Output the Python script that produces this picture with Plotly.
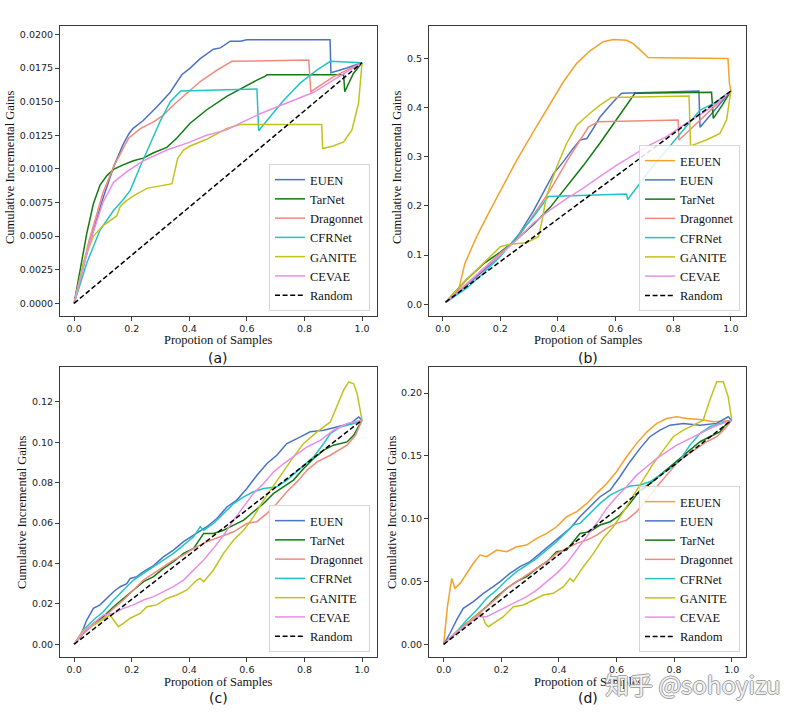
import plotly.graph_objects as go

# ---------------- Panel (a) ----------------
A_EUEN_X = [0, 0.05, 0.1, 0.14, 0.17, 0.19, 0.204, 0.24, 0.287, 0.334, 0.374, 0.403, 0.438, 0.484, 0.508, 0.542, 0.577, 0.6, 0.889, 0.892, 0.947, 1.0]
A_EUEN_Y = [0, 0.0042, 0.0078, 0.0103, 0.0118, 0.0126, 0.0130, 0.0136, 0.0146, 0.0157, 0.0170, 0.0175, 0.0182, 0.0189, 0.0190, 0.0195, 0.0195, 0.0196, 0.0196, 0.01715, 0.0175, 0.0179]
A_TARNET_X = [0, 0.044, 0.067, 0.09, 0.114, 0.137, 0.17, 0.206, 0.24, 0.276, 0.322, 0.357, 0.403, 0.461, 0.53, 0.589, 0.635, 0.664, 0.67, 0.936, 0.94, 0.97, 1.0]
A_TARNET_Y = [0, 0.0052, 0.0074, 0.0088, 0.0095, 0.00996, 0.0103, 0.0106, 0.0108, 0.0112, 0.0116, 0.0123, 0.0134, 0.0144, 0.0154, 0.0161, 0.0166, 0.0169, 0.0170, 0.0170, 0.01574, 0.0171, 0.0179]
A_DRAGON_X = [0, 0.05, 0.1, 0.14, 0.19, 0.23, 0.276, 0.31, 0.345, 0.39, 0.438, 0.496, 0.548, 0.815, 0.822, 0.9, 1.0]
A_DRAGON_Y = [0, 0.0045, 0.0082, 0.0103, 0.0123, 0.0130, 0.0135, 0.0140, 0.01475, 0.0156, 0.0165, 0.01735, 0.0180, 0.0181, 0.01574, 0.01685, 0.0179]
A_CFR_X = [0, 0.044, 0.09, 0.137, 0.17, 0.195, 0.23, 0.264, 0.3, 0.334, 0.37, 0.635, 0.641, 0.67, 0.728, 0.786, 0.843, 0.89, 1.0]
A_CFR_Y = [0, 0.0030, 0.00545, 0.0069, 0.0077, 0.0084, 0.0102, 0.0119, 0.0136, 0.0150, 0.0158, 0.01594, 0.01284, 0.0136, 0.0151, 0.0164, 0.01735, 0.0180, 0.0179]
A_GANITE_X = [0, 0.032, 0.067, 0.102, 0.148, 0.16, 0.18, 0.206, 0.253, 0.31, 0.34, 0.36, 0.38, 0.403, 0.46, 0.53, 0.577, 0.86, 0.863, 0.9, 0.936, 0.965, 0.988, 1.0]
A_GANITE_Y = [0, 0.0030, 0.0050, 0.0058, 0.0065, 0.0072, 0.0076, 0.0080, 0.00855, 0.0088, 0.0089, 0.0108, 0.0114, 0.0117, 0.0122, 0.0130, 0.0133, 0.0133, 0.01152, 0.0117, 0.0120, 0.0129, 0.0149, 0.0179]
A_CEVAE_X = [0, 0.05, 0.1, 0.137, 0.183, 0.24, 0.322, 0.39, 0.46, 0.53, 0.577, 0.646, 0.704, 0.762, 0.832, 0.9, 1.0]
A_CEVAE_Y = [0, 0.0042, 0.0075, 0.0090, 0.0098, 0.0106, 0.0114, 0.0119, 0.0125, 0.0129, 0.0134, 0.0141, 0.0146, 0.0151, 0.0157, 0.0166, 0.0179]
A_RANDOM_X = [0, 1.0]
A_RANDOM_Y = [0, 0.0179]

# ---------------- Panel (b) ----------------
B_EEUEN_X = [0.01, 0.054, 0.077, 0.118, 0.153, 0.2, 0.257, 0.315, 0.373, 0.419, 0.465, 0.51, 0.557, 0.592, 0.638, 0.661, 0.684, 0.713, 0.754, 0.99, 0.995, 1.0]
B_EEUEN_Y = [0.005, 0.026, 0.083, 0.1375, 0.178, 0.229, 0.293, 0.351, 0.4085, 0.4526, 0.49, 0.515, 0.534, 0.5386, 0.537, 0.53, 0.518, 0.502, 0.5014, 0.50, 0.45, 0.4336]
B_EUEN_X = [0.01, 0.083, 0.141, 0.2, 0.257, 0.315, 0.35, 0.384, 0.419, 0.45, 0.477, 0.5, 0.523, 0.546, 0.57, 0.592, 0.621, 0.889, 0.893, 1.0]
B_EUEN_Y = [0.004, 0.038, 0.068, 0.10, 0.135, 0.19, 0.228, 0.265, 0.29, 0.315, 0.334, 0.337, 0.358, 0.381, 0.397, 0.412, 0.429, 0.4336, 0.36, 0.4336]
B_TARNET_X = [0.01, 0.083, 0.141, 0.2, 0.257, 0.315, 0.373, 0.43, 0.488, 0.546, 0.604, 0.667, 0.933, 0.939, 0.97, 1.0]
B_TARNET_Y = [0.004, 0.05, 0.082, 0.106, 0.132, 0.162, 0.197, 0.238, 0.282, 0.328, 0.376, 0.429, 0.431, 0.378, 0.405, 0.4336]
B_DRAGON_X = [0.01, 0.083, 0.141, 0.2, 0.257, 0.315, 0.373, 0.43, 0.477, 0.506, 0.54, 0.817, 0.82, 1.0]
B_DRAGON_Y = [0.004, 0.04, 0.072, 0.104, 0.131, 0.182, 0.232, 0.29, 0.334, 0.361, 0.371, 0.3747, 0.334, 0.4336]
B_CFR_X = [0.01, 0.083, 0.141, 0.2, 0.257, 0.315, 0.366, 0.638, 0.642, 0.719, 0.777, 0.835, 0.893, 0.939, 1.0]
B_CFR_Y = [0.003, 0.0325, 0.063, 0.097, 0.1375, 0.178, 0.219, 0.2243, 0.213, 0.273, 0.3137, 0.354, 0.395, 0.408, 0.4336]
B_GANITE_X = [0.01, 0.083, 0.141, 0.2, 0.233, 0.291, 0.332, 0.343, 0.36, 0.396, 0.43, 0.465, 0.51, 0.546, 0.586, 0.855, 0.86, 0.915, 0.962, 0.985, 1.0]
B_GANITE_Y = [0.004, 0.05, 0.083, 0.117, 0.122, 0.125, 0.1375, 0.165, 0.219, 0.28, 0.327, 0.364, 0.388, 0.405, 0.4207, 0.4234, 0.3218, 0.334, 0.3476, 0.3747, 0.4336]
B_CEVAE_X = [0.01, 0.083, 0.141, 0.2, 0.257, 0.315, 0.373, 0.43, 0.488, 0.546, 0.604, 0.661, 0.719, 0.777, 0.835, 0.893, 0.95, 1.0]
B_CEVAE_Y = [0.004, 0.042, 0.072, 0.1, 0.131, 0.165, 0.192, 0.215, 0.236, 0.26, 0.283, 0.3035, 0.324, 0.341, 0.3645, 0.385, 0.4085, 0.4336]
B_RANDOM_X = [0.01, 1.0]
B_RANDOM_Y = [0.0043, 0.4336]

# ---------------- Panel (c) ----------------
C_EUEN_X = [0, 0.021, 0.044, 0.067, 0.09, 0.114, 0.137, 0.16, 0.183, 0.195, 0.218, 0.241, 0.276, 0.31, 0.345, 0.38, 0.415, 0.438, 0.461, 0.496, 0.531, 0.565, 0.6, 0.635, 0.67, 0.704, 0.739, 0.786, 0.82, 0.867, 0.913, 0.96, 0.988, 1.0]
C_EUEN_Y = [0, 0.0038, 0.012, 0.0178, 0.0195, 0.0227, 0.026, 0.0285, 0.030, 0.0326, 0.0335, 0.036, 0.039, 0.0433, 0.0466, 0.0508, 0.054, 0.0557, 0.0582, 0.0623, 0.068, 0.0714, 0.0771, 0.0837, 0.0895, 0.0936, 0.0994, 0.1027, 0.1052, 0.106, 0.1076, 0.1093, 0.1126, 0.111]
C_TARNET_X = [0, 0.032, 0.067, 0.102, 0.137, 0.171, 0.206, 0.241, 0.276, 0.31, 0.345, 0.38, 0.415, 0.45, 0.484, 0.519, 0.554, 0.589, 0.623, 0.658, 0.693, 0.728, 0.762, 0.797, 0.832, 0.867, 0.901, 0.948, 0.971, 1.0]
C_TARNET_Y = [0, 0.0054, 0.0104, 0.0137, 0.0186, 0.0227, 0.0269, 0.031, 0.0335, 0.0376, 0.0409, 0.045, 0.0475, 0.0549, 0.0549, 0.0565, 0.059, 0.0615, 0.0656, 0.0697, 0.0747, 0.078, 0.0813, 0.087, 0.092, 0.0961, 0.0986, 0.1002, 0.1035, 0.111]
C_DRAGON_X = [0, 0.032, 0.067, 0.102, 0.137, 0.171, 0.206, 0.241, 0.276, 0.31, 0.345, 0.38, 0.415, 0.461, 0.508, 0.554, 0.6, 0.635, 0.67, 0.704, 0.739, 0.774, 0.809, 0.844, 0.89, 0.948, 0.977, 1.0]
C_DRAGON_Y = [0, 0.0054, 0.0096, 0.0129, 0.0178, 0.0219, 0.0269, 0.0318, 0.0351, 0.0384, 0.0417, 0.0442, 0.0475, 0.0508, 0.0532, 0.0557, 0.0598, 0.0607, 0.0648, 0.0697, 0.0755, 0.0804, 0.0862, 0.0903, 0.0936, 0.0986, 0.1035, 0.111]
C_CFR_X = [0, 0.032, 0.067, 0.102, 0.137, 0.171, 0.206, 0.241, 0.276, 0.31, 0.345, 0.38, 0.415, 0.438, 0.45, 0.484, 0.519, 0.554, 0.589, 0.623, 0.658, 0.704, 0.739, 0.786, 0.832, 0.867, 0.89, 0.925, 0.971, 1.0]
C_CFR_Y = [0, 0.0071, 0.012, 0.0162, 0.0219, 0.0269, 0.0318, 0.0351, 0.0384, 0.0417, 0.045, 0.0491, 0.0532, 0.0582, 0.0565, 0.0598, 0.0648, 0.0697, 0.073, 0.0755, 0.0771, 0.078, 0.0813, 0.087, 0.0928, 0.0994, 0.1043, 0.1076, 0.1093, 0.111]
C_GANITE_X = [0, 0.032, 0.079, 0.125, 0.137, 0.154, 0.171, 0.195, 0.229, 0.253, 0.287, 0.322, 0.357, 0.392, 0.426, 0.438, 0.45, 0.484, 0.519, 0.554, 0.589, 0.623, 0.658, 0.693, 0.728, 0.762, 0.797, 0.844, 0.89, 0.913, 0.936, 0.954, 0.971, 0.983, 0.994, 1.0]
C_GANITE_Y = [0, 0.007, 0.0104, 0.0145, 0.012, 0.0087, 0.0104, 0.0129, 0.0153, 0.0186, 0.0195, 0.0227, 0.0244, 0.0269, 0.0318, 0.0326, 0.031, 0.0368, 0.045, 0.0516, 0.0565, 0.0631, 0.0714, 0.0788, 0.0862, 0.0928, 0.0994, 0.1052, 0.1101, 0.1175, 0.1258, 0.1299, 0.129, 0.1241, 0.1142, 0.111]
C_CEVAE_X = [0, 0.032, 0.067, 0.102, 0.137, 0.171, 0.206, 0.241, 0.276, 0.31, 0.345, 0.38, 0.415, 0.45, 0.484, 0.519, 0.554, 0.589, 0.623, 0.658, 0.693, 0.728, 0.762, 0.809, 0.855, 0.901, 0.948, 1.0]
C_CEVAE_Y = [0, 0.0063, 0.0104, 0.0145, 0.0153, 0.0178, 0.0195, 0.0219, 0.0236, 0.026, 0.0285, 0.0318, 0.0368, 0.0417, 0.0475, 0.054, 0.0615, 0.068, 0.0747, 0.0796, 0.0854, 0.0895, 0.0928, 0.0977, 0.101, 0.106, 0.1093, 0.111]
C_RANDOM_X = [0, 1.0]
C_RANDOM_Y = [0, 0.111]

# ---------------- Panel (d) ----------------
D_EEUEN_X = [0, 0.008, 0.013, 0.028, 0.039, 0.057, 0.08, 0.103, 0.126, 0.149, 0.184, 0.219, 0.253, 0.288, 0.323, 0.358, 0.392, 0.427, 0.462, 0.497, 0.531, 0.566, 0.6, 0.635, 0.67, 0.705, 0.74, 0.774, 0.809, 0.844, 0.89, 0.937, 0.983, 1.0]
D_EEUEN_Y = [0, 0.0194, 0.03, 0.0525, 0.0446, 0.0485, 0.0565, 0.0645, 0.071, 0.0698, 0.075, 0.0737, 0.0777, 0.079, 0.0843, 0.0883, 0.0936, 0.1016, 0.1056, 0.1122, 0.1202, 0.128, 0.1374, 0.1493, 0.16, 0.169, 0.1759, 0.1798, 0.1812, 0.1798, 0.179, 0.1772, 0.178, 0.1785]
D_EUEN_X = [0, 0.022, 0.045, 0.068, 0.103, 0.138, 0.172, 0.196, 0.23, 0.265, 0.3, 0.334, 0.369, 0.404, 0.439, 0.473, 0.508, 0.543, 0.578, 0.612, 0.647, 0.682, 0.716, 0.751, 0.786, 0.832, 0.89, 0.948, 0.988, 1.0]
D_EUEN_Y = [0, 0.0088, 0.0194, 0.0286, 0.034, 0.0406, 0.0459, 0.0499, 0.0565, 0.0618, 0.0658, 0.0724, 0.079, 0.0857, 0.0923, 0.1016, 0.1095, 0.1175, 0.1228, 0.1334, 0.1454, 0.156, 0.1653, 0.1706, 0.1745, 0.1759, 0.1745, 0.1759, 0.1812, 0.1785]
D_TARNET_X = [0, 0.045, 0.08, 0.115, 0.149, 0.184, 0.219, 0.253, 0.288, 0.323, 0.358, 0.392, 0.427, 0.45, 0.473, 0.508, 0.543, 0.578, 0.612, 0.647, 0.682, 0.716, 0.751, 0.786, 0.82, 0.855, 0.89, 0.924, 0.959, 0.988, 1.0]
D_TARNET_Y = [0, 0.01, 0.0167, 0.0233, 0.030, 0.0379, 0.0446, 0.0499, 0.0538, 0.0605, 0.0658, 0.0737, 0.075, 0.0817, 0.0883, 0.0897, 0.095, 0.0976, 0.1029, 0.1122, 0.1228, 0.128, 0.1347, 0.1414, 0.148, 0.1546, 0.1613, 0.1653, 0.1692, 0.1772, 0.1785]
D_DRAGON_X = [0, 0.045, 0.08, 0.115, 0.149, 0.184, 0.219, 0.253, 0.288, 0.323, 0.358, 0.392, 0.427, 0.462, 0.497, 0.531, 0.566, 0.6, 0.635, 0.67, 0.705, 0.74, 0.774, 0.809, 0.844, 0.878, 0.913, 0.948, 0.977, 1.0]
D_DRAGON_Y = [0, 0.01, 0.0167, 0.0233, 0.030, 0.0366, 0.0446, 0.0499, 0.0552, 0.0605, 0.0658, 0.0724, 0.0764, 0.0804, 0.083, 0.087, 0.0923, 0.0963, 0.0989, 0.1056, 0.1149, 0.1255, 0.1347, 0.144, 0.1507, 0.156, 0.1613, 0.1653, 0.1719, 0.1785]
D_CFR_X = [0, 0.045, 0.08, 0.115, 0.149, 0.184, 0.219, 0.253, 0.288, 0.323, 0.358, 0.392, 0.427, 0.45, 0.473, 0.508, 0.543, 0.578, 0.612, 0.647, 0.682, 0.716, 0.751, 0.786, 0.82, 0.855, 0.89, 0.924, 0.959, 1.0]
D_CFR_Y = [0, 0.01, 0.0194, 0.0273, 0.0366, 0.0432, 0.0512, 0.0578, 0.0631, 0.0684, 0.0751, 0.0817, 0.0897, 0.095, 0.0963, 0.1042, 0.1122, 0.1188, 0.1228, 0.126, 0.1268, 0.1294, 0.1347, 0.140, 0.1467, 0.1586, 0.1679, 0.1732, 0.1759, 0.1785]
D_GANITE_X = [0, 0.057, 0.103, 0.132, 0.144, 0.155, 0.172, 0.207, 0.242, 0.277, 0.311, 0.346, 0.381, 0.416, 0.439, 0.45, 0.485, 0.52, 0.554, 0.589, 0.624, 0.659, 0.693, 0.728, 0.763, 0.797, 0.832, 0.867, 0.901, 0.924, 0.948, 0.971, 0.988, 1.0]
D_GANITE_Y = [0, 0.0114, 0.0207, 0.0247, 0.0167, 0.014, 0.0167, 0.022, 0.030, 0.0313, 0.0353, 0.0393, 0.0406, 0.0459, 0.0525, 0.0499, 0.0618, 0.0724, 0.0844, 0.0936, 0.1056, 0.1188, 0.1308, 0.144, 0.1546, 0.1653, 0.1706, 0.1745, 0.1785, 0.1944, 0.209, 0.209, 0.197, 0.1785]
D_CEVAE_X = [0, 0.045, 0.08, 0.115, 0.149, 0.184, 0.219, 0.253, 0.288, 0.323, 0.358, 0.392, 0.427, 0.462, 0.497, 0.531, 0.566, 0.6, 0.635, 0.67, 0.705, 0.74, 0.774, 0.809, 0.844, 0.89, 0.937, 1.0]
D_CEVAE_Y = [0, 0.01, 0.0154, 0.022, 0.022, 0.026, 0.030, 0.034, 0.0379, 0.0432, 0.0499, 0.0565, 0.0645, 0.0751, 0.0857, 0.0963, 0.1082, 0.1175, 0.1255, 0.1347, 0.1414, 0.148, 0.1533, 0.1586, 0.1626, 0.1679, 0.1732, 0.1785]
D_RANDOM_X = [0, 1.0]
D_RANDOM_Y = [0, 0.1785]

# tick labels
X_TICKS = [0.0, 0.2, 0.4, 0.6, 0.8, 1.0]
A_Y_TICKS = [0.0, 0.0025, 0.005, 0.0075, 0.01, 0.0125, 0.015, 0.0175, 0.02]
B_Y_TICKS = [0.0, 0.1, 0.2, 0.3, 0.4, 0.5]
C_Y_TICKS = [0.0, 0.02, 0.04, 0.06, 0.08, 0.10, 0.12]
D_Y_TICKS = [0.0, 0.05, 0.10, 0.15, 0.20]
CAPTIONS = ["(a)", "(b)", "(c)", "(d)"]

COLORS = {
    "EEUEN": "#f5a12a",
    "EUEN": "#4c72c4",
    "TarNet": "#117a11",
    "Dragonnet": "#f08a7e",
    "CFRNet": "#22c3c3",
    "GANITE": "#c2c21e",
    "CEVAE": "#ea8ee6",
    "Random": "#000000",
}

W, H = 801, 719
def px(x):
    return x / W
def py(y):
    return 1 - y / H

fig = go.Figure()

panels = [
    ("a", [("EUEN", A_EUEN_X, A_EUEN_Y), ("TarNet", A_TARNET_X, A_TARNET_Y), ("Dragonnet", A_DRAGON_X, A_DRAGON_Y),
           ("CFRNet", A_CFR_X, A_CFR_Y), ("GANITE", A_GANITE_X, A_GANITE_Y), ("CEVAE", A_CEVAE_X, A_CEVAE_Y),
           ("Random", A_RANDOM_X, A_RANDOM_Y)]),
    ("b", [("EEUEN", B_EEUEN_X, B_EEUEN_Y), ("EUEN", B_EUEN_X, B_EUEN_Y), ("TarNet", B_TARNET_X, B_TARNET_Y),
           ("Dragonnet", B_DRAGON_X, B_DRAGON_Y), ("CFRNet", B_CFR_X, B_CFR_Y), ("GANITE", B_GANITE_X, B_GANITE_Y),
           ("CEVAE", B_CEVAE_X, B_CEVAE_Y), ("Random", B_RANDOM_X, B_RANDOM_Y)]),
    ("c", [("EUEN", C_EUEN_X, C_EUEN_Y), ("TarNet", C_TARNET_X, C_TARNET_Y), ("Dragonnet", C_DRAGON_X, C_DRAGON_Y),
           ("CFRNet", C_CFR_X, C_CFR_Y), ("GANITE", C_GANITE_X, C_GANITE_Y), ("CEVAE", C_CEVAE_X, C_CEVAE_Y),
           ("Random", C_RANDOM_X, C_RANDOM_Y)]),
    ("d", [("EEUEN", D_EEUEN_X, D_EEUEN_Y), ("EUEN", D_EUEN_X, D_EUEN_Y), ("TarNet", D_TARNET_X, D_TARNET_Y),
           ("Dragonnet", D_DRAGON_X, D_DRAGON_Y), ("CFRNet", D_CFR_X, D_CFR_Y), ("GANITE", D_GANITE_X, D_GANITE_Y),
           ("CEVAE", D_CEVAE_X, D_CEVAE_Y), ("Random", D_RANDOM_X, D_RANDOM_Y)]),
]

legend_names = ["legend", "legend2", "legend3", "legend4"]
for i, (key, series) in enumerate(panels):
    xa = "x" if i == 0 else f"x{i+1}"
    ya = "y" if i == 0 else f"y{i+1}"
    for name, xs, ys in series:
        line = dict(color=COLORS[name], width=1.5)
        if name == "Random":
            line["dash"] = "5px,2.6px"
        fig.add_trace(go.Scatter(x=xs, y=ys, mode="lines", name=name, line=line,
                                 xaxis=xa, yaxis=ya, legend=legend_names[i]))

# frames in pixels: (left, right, top, bottom)
frames = [(60, 377, 26, 316), (429, 746, 26, 316), (60, 377, 367, 657), (429, 746, 367, 657)]
xranges = [[-0.049, 1.052], [-0.0475, 1.0525], [-0.049, 1.052], [-0.051, 1.0497]]
yranges = [[-0.000945, 0.02063], [-0.024, 0.566], [-0.0063, 0.1373], [-0.0101, 0.2208]]
yticks = [A_Y_TICKS, B_Y_TICKS, C_Y_TICKS, D_Y_TICKS]
yfmts = [".4f", ".1f", ".2f", ".2f"]

tickfont = dict(family="DejaVu Sans", size=9.5, color="#222")
axcommon = dict(showgrid=False, zeroline=False, showline=True, mirror=True, linecolor="#3a3a3a",
                linewidth=1, ticks="outside", ticklen=4, tickwidth=1, tickcolor="#3a3a3a", tickfont=tickfont)

layout = {}
for i in range(4):
    l, r, t, b = frames[i]
    xk = "xaxis" if i == 0 else f"xaxis{i+1}"
    yk = "yaxis" if i == 0 else f"yaxis{i+1}"
    xa = "x" if i == 0 else f"x{i+1}"
    ya = "y" if i == 0 else f"y{i+1}"
    layout[xk] = dict(domain=[px(l), px(r)], range=xranges[i], anchor=ya, tickvals=X_TICKS,
                      tickformat=".1f", **axcommon)
    layout[yk] = dict(domain=[py(b), py(t)], range=yranges[i], anchor=xa, tickvals=yticks[i],
                      tickformat=yfmts[i], **axcommon)

fig.update_layout(**layout)

legfont = dict(family="Liberation Serif", size=12.5, color="#111")
leg_pos = [(370, 311), (740, 311), (370, 652), (740, 652)]
for i, (lx, ly) in enumerate(leg_pos):
    fig.update_layout(**{legend_names[i]: dict(x=px(lx), y=py(ly), xanchor="right", yanchor="bottom",
                                               bgcolor="rgba(255,255,255,0.85)", bordercolor="#d6d6d6",
                                               borderwidth=1, font=legfont, itemwidth=30,
                                               tracegroupgap=0)})

annotations = []
serif = dict(family="Liberation Serif", size=12.5, color="#111")
xtitle_pos = [(218, 340), (588, 340), (218, 682), (588, 682)]
ytitle_pos = [(10, 167), (397, 167), (22, 512), (392, 512)]
caption_pos = [(218, 358), (588, 358), (218, 698), (588, 698)]
for i in range(4):
    annotations.append(dict(text="Propotion of Samples", x=px(xtitle_pos[i][0]), y=py(xtitle_pos[i][1]),
                            xref="paper", yref="paper", showarrow=False, font=serif,
                            xanchor="center", yanchor="middle"))
    annotations.append(dict(text="Cumulative Incremental Gains", x=px(ytitle_pos[i][0]), y=py(ytitle_pos[i][1]),
                            xref="paper", yref="paper", showarrow=False, font=serif, textangle=-90,
                            xanchor="center", yanchor="middle"))
    annotations.append(dict(text=CAPTIONS[i], x=px(caption_pos[i][0]), y=py(caption_pos[i][1]),
                            xref="paper", yref="paper", showarrow=False,
                            font=dict(family="DejaVu Sans", size=14, color="#111"),
                            xanchor="center", yanchor="middle"))

# watermark (overlaps the x title of panel (d) as in the reference)
annotations.append(dict(text="知乎 @sohoyizu", x=px(693), y=py(683), xref="paper", yref="paper",
                        showarrow=False, xanchor="center", yanchor="middle",
                        font=dict(family="Noto Sans CJK SC", size=24, color="rgba(250,250,250,0.92)",
                                  shadow="1px 0px 0px #9a9a9a, -1px 0px 0px #9a9a9a, 0px 1px 0px #9a9a9a, 0px -1px 0px #9a9a9a")))

fig.update_layout(width=W, height=H, margin=dict(l=0, r=0, t=0, b=0),
                  paper_bgcolor="white", plot_bgcolor="white",
                  annotations=annotations, showlegend=True)

fig.write_html("out.html")
